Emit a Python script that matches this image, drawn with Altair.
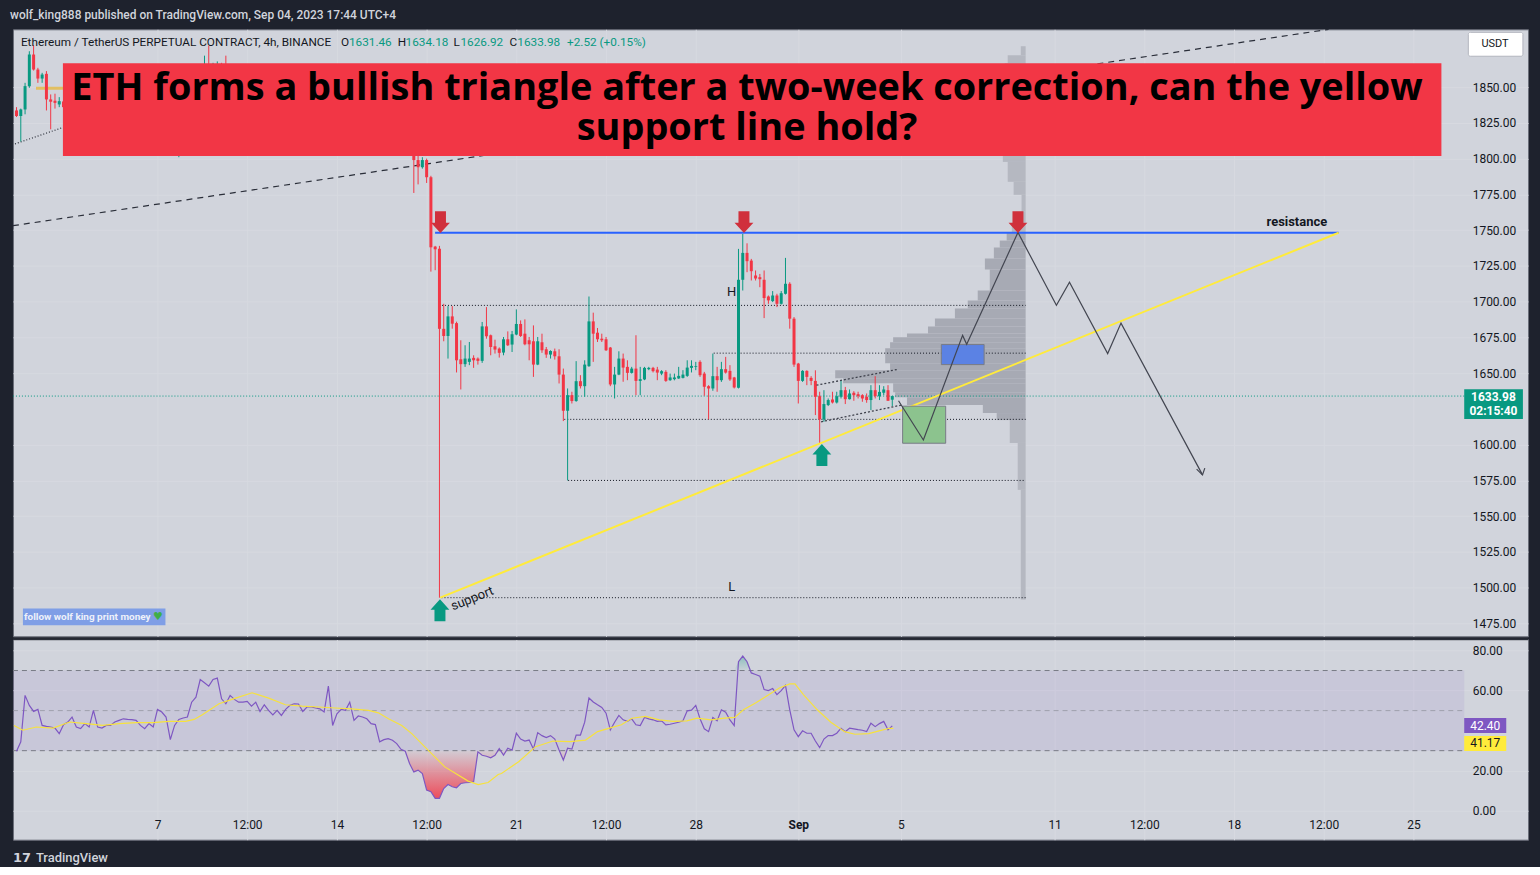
import altair as alt
import pandas as pd
import numpy as np

# ---------------- data ----------------
# 4h candles, x in "day of August" units (Sep 1 = 32); first bar Aug 1 12:00
first_bar_day = 1.5
opens = [
 1833.7,1829.8,1834.4,1850.7,1872.8,1862.3,1856.0,1859.3,1841.4,1840.5,
 1837.9,1840,1836,1839,1843,1836,1834,1838,1833,1846,
 1834,1833,1835,1835.5,1838,1840,1841,1840,1840.5,1839,
 1835,1832,1836,1833,1844,1842,1838,1820,1830,1834,
 1836,1837,1846,1850,1858,1866,1861,1864,1866,1860,
 1853,1859,1856,1854,1854.5,1855,1851,1854,1847,1851,
 1848,1845,1848,1844,1849,1851,1852,1852.5,1847,1850,
 1850.5,1849,1849.5,1847,1862,1840,1845,1848,1847,1852,
 1841,1844,1843,1840,1838,1824,1826,1826.5,1823,1815,
 1810,1806,1810,1805,1799,1794,1799,1787,1738.5,1737,
 1681,1676,1689.7,1685,1659.7,1656.3,1657.9,1660.7,1660.2,1658.6,
 1682.7,1676.5,1668.8,1667.2,1664.4,1673.7,1670,1677,1684.4,1677.6,
 1673,1672.3,1656,1671.6,1666.7,1663,1665.3,1661.8,1649,1623.7,
 1634.6,1630.5,1644.4,1640.9,1654.9,1686.2,1678.3,1674.1,1673.7,1667.9,
 1642.1,1649,1660.2,1654.4,1650.2,1653.2,1644.6,1645.6,1652.8,1653.7,
 1652.5,1649.7,1650.9,1645.1,1645.8,1646.3,1646.7,1648.1,1653.7,1654.4,
 1657.9,1649.7,1640.9,1639.3,1647.9,1645.1,1652.8,1651.6,1647,1639.8,
 1715.3,1734.1,1728.7,1718.3,1717.1,1715.3,1703.6,1700.4,1704.3,1698.5,
 1705.5,1712.5,1688.1,1656.7,1644.6,1651.6,1646.7,1644.6,1633.9,1617.7,
 1627.7,1631.6,1629.5,1633.5,1638.1,1631.8,1636.3,1635.3,1634.6,1633.5,
 1631.2,1638.1,1633.9,1636.3,1638.1,1631.46]
highs = [
 1836.0,1835.0,1853.0,1875.1,1879.3,1863.5,1860.0,1861.2,1844.9,1845.4,
 1843.0,1843,1841,1845,1844,1839,1840,1839,1849,1847,
 1837,1838,1837,1840,1842,1843,1843,1842,1841,1840,
 1837,1838,1837,1846,1846,1843,1839,1832,1836,1838,
 1840,1848,1852,1862,1872,1879,1867,1868,1867,1872,
 1862,1861,1858,1857,1858,1856,1856,1855,1853,1852,
 1849,1850,1849,1850,1853,1854,1853,1853,1852,1852,
 1851,1851,1850,1866,1863,1848,1850,1849,1855,1853,
 1846,1845,1844,1841,1839,1829,1829,1827,1824,1816,
 1811,1812,1812,1808,1803,1801,1800,1788,1739,1739,
 1698.5,1696.9,1696.9,1686,1673,1669.5,1671.8,1662.5,1661,1685.8,
 1696.2,1677,1673.4,1668,1675.3,1679.2,1679.5,1694.6,1686.9,1687.6,
 1675.3,1683.4,1675.3,1677.6,1668.3,1666,1667.2,1666.7,1653.2,1639.3,
 1637,1658.4,1648.6,1659,1703.6,1692.3,1681.6,1677.6,1675.3,1668.3,
 1654.4,1665.3,1663.7,1659,1654.4,1676.5,1654.4,1654.4,1654.4,1654.4,
 1654.4,1652.1,1652.1,1649.7,1649.7,1654.4,1652.1,1659,1659,1657.9,
 1659,1650.9,1641.6,1663.7,1654.4,1657.9,1661.4,1655.6,1647.4,1736.9,
 1747.3,1740.8,1729.9,1721.8,1719.4,1721.8,1704.3,1707.4,1705.5,1707.4,
 1730.6,1713.6,1689.2,1657.2,1652.1,1652,1647.9,1652,1637,1638.1,
 1632.3,1637,1637,1645.1,1640.4,1638.6,1637.4,1637,1635.3,1635.8,
 1641.6,1647.9,1641.6,1640.9,1641.6,1634.18]
lows = [
 1829.1,1812.0,1831.0,1849.5,1861.6,1853.0,1853.0,1833.7,1820.5,1835.0,
 1836.0,1833,1834,1837,1834,1831,1832,1831,1832,1832,
 1830,1831,1832,1833,1836,1837,1838,1837,1836,1833,
 1829,1831,1830,1832,1840,1836,1816,1818,1801,1830,
 1834,1835,1843,1849,1855,1858,1857,1860,1856,1850,
 1851,1853,1851,1850,1852,1849,1850,1845,1846,1845,
 1842,1843,1843,1843,1847,1849,1849,1845,1846,1848,
 1848,1847,1845,1846,1838,1837,1843,1844,1846,1839,
 1839,1840,1838,1836,1822,1820,1822,1819,1812,1808,
 1803,1804,1803,1776,1782,1793,1783,1721,1722,1493,
 1672.3,1660.2,1681.1,1650.5,1638.6,1654.4,1655.6,1653.7,1656,1657.2,
 1674.1,1662.5,1663.7,1660.9,1662.5,1669,1664.8,1676.5,1675.3,1669.5,
 1659,1647.4,1655.6,1664.2,1660.7,1660.2,1659.5,1642.8,1616.5,1575,
 1628.8,1630,1639.3,1633.5,1654.4,1657.9,1671.8,1671.8,1665.5,1640.9,
 1632.3,1648.6,1644,1645.1,1649.7,1634.6,1634.6,1645.1,1652.1,1650.5,
 1645.1,1648.6,1643.9,1644.6,1645,1646,1646.3,1647.4,1650.5,1652.1,
 1647.4,1634.2,1617.7,1637.7,1637,1643.9,1649.7,1644.6,1639.3,1639.3,
 1707.8,1720.6,1714.8,1714.8,1710.1,1688.5,1698.5,1699.7,1696.2,1698,
 1705,1681.1,1654.4,1628.8,1643.9,1641.6,1641.6,1620.7,1601,1616,
 1627,1628.8,1628.8,1632.3,1628.4,1631.6,1630.7,1632.3,1630,1629.3,
 1624.2,1632.3,1631.2,1634.6,1630.7,1626.92]
closes = [
 1829.8,1834.4,1850.7,1872.8,1862.3,1856.0,1858.8,1841.4,1839.8,1839.0,
 1840.2,1836,1839,1843,1836,1834,1838,1833,1846,1834,
 1833,1835,1835.5,1838,1840,1841,1840,1840.5,1839,1835,
 1832,1836,1833,1844,1842,1838,1820,1830,1834,1836,
 1837,1846,1850,1858,1866,1861,1864,1866,1860,1853,
 1859,1856,1854,1854.5,1855,1851,1854,1847,1851,1848,
 1845,1848,1844,1849,1851,1852,1852.5,1847,1850,1850.5,
 1849,1849.5,1847,1862,1840,1845,1848,1847,1852,1841,
 1844,1843,1840,1838,1824,1826,1826.5,1823,1815,1810,
 1806,1810,1806,1799,1794,1799,1787,1738,1736.6,1681,
 1676,1689.7,1684.6,1659,1656.3,1660.2,1660.2,1659.0,1658.6,1682.7,
 1675.8,1668.3,1666.5,1664.2,1673.7,1669.5,1677.2,1684.4,1676,1670.2,
 1670.2,1656,1672.3,1666,1663,1665.5,1661.8,1649,1623.7,1634.6,
 1630.5,1644.4,1640.9,1656,1686.2,1677.6,1673.7,1673,1666,1642.1,
 1649,1660.2,1653.9,1650.2,1653.2,1644.6,1645.8,1653.7,1653.7,1651.4,
 1650.4,1651.4,1644.6,1647,1647,1648.1,1649,1653.9,1655.1,1654.9,
 1648.6,1640.5,1639.3,1647.9,1645.1,1652.8,1650.4,1645.6,1640,1715.3,
 1734.1,1728.3,1721.3,1716.2,1715.7,1702.5,1700.9,1704.3,1698.5,1705.9,
 1712.5,1688.1,1656,1644.6,1651.6,1647.4,1644.6,1633.5,1617.7,1628.4,
 1631.2,1629.5,1633.9,1638.1,1631.8,1635.8,1634.6,1633.9,1632.3,1631.2,
 1638.1,1633.9,1636.9,1638.6,1630.7,1633.98]

rsi_vals = [
 29.7,34.4,57.6,52.6,49.6,50.6,42.6,42.1,41.8,41.3,
 38.5,43.0,44.3,46.8,41.8,41.0,43.5,41.8,50.1,41.8,
 41.3,42.6,42.6,44.3,45.1,45.9,45.6,45.5,45.1,42.6,
 41.0,43.5,41.8,50.6,49.3,46.8,35.5,42.6,45.6,46.3,
 46.8,54.2,56.7,65.5,63.9,62.2,65.5,66.2,55.9,53.4,
 57.6,55.6,54.2,54.2,54.6,52.2,54.2,49.6,52.9,50.1,
 47.9,50.1,47.6,50.6,52.6,53.4,53.3,49.6,51.8,51.8,
 51.3,50.9,49.3,62.2,42.6,48.4,50.6,50.1,54.2,45.1,
 47.3,46.8,45.9,43.5,43.0,34.4,35.5,36.0,35.2,33.5,
 30.7,29.7,23.6,19.4,20.3,18.6,10.3,9.5,6.2,6.2,
 11.1,13.1,12.0,11.5,13.6,14.0,14.1,14.5,29.4,27.7,
 27.2,26.4,27.7,31.0,
 27.8,31.2,30.3,38.7,35.8,34.8,35.3,30.8,39.0,37.5,
 36.5,37.5,35.8,30.3,25.3,31.2,30.8,37.8,37.8,44.2,
 56.3,54.3,52.9,51.6,48.7,40.4,44.2,47.6,45.4,44.6,
 45.9,42.9,42.5,46.6,45.9,45.4,44.6,44.9,42.9,43.2,
 43.7,44.2,44.9,49.9,50.2,52.6,45.9,40.9,39.5,46.6,
 44.9,50.4,49.2,45.4,42.5,74.4,77.2,74.4,68.8,68.0,
 67.2,60.5,60.0,61.0,58.0,60.0,62.6,50.4,40.4,37.0,
 39.9,38.7,38.7,34.8,31.5,35.8,37.5,37.5,38.7,41.2,
 39.5,41.2,40.9,40.5,40.2,39.5,43.7,42.0,43.5,44.6,
 40.4,42.4]

ma_days = [1.40,1.75,2.27,2.92,3.57,4.21,4.86,5.51,6.16,6.81,
 7.45,8.10,8.43,8.75,9.40,10.05,10.69,11.34,11.99,12.64,
 13.29,13.93,14.58,15.23,15.62,16.01,16.53,16.92,17.43,17.82,
 18.21,18.73,19.12,19.51,19.90,20.29,20.42,21.09,21.75,22.43,
 23.10,23.70,24.17,24.70,25.10,25.51,26.04,26.58,27.11,27.65,
 28.05,28.59,29.12,29.52,29.86,30.33,30.86,31.26,31.67,31.87,
 32.20,32.74,33.27,33.81,34.21,34.75,35.15,35.55,35.71]
ma_vals = [42.6,40.2,41.8,41.3,44.3,43.5,42.6,43.5,44.0,44.0,
 44.6,44.6,45.6,47.9,53.4,56.2,58.9,56.2,52.9,52.2,
 51.8,51.3,50.9,50.1,48.9,45.9,42.6,38.5,31.9,26.9,
 21.9,17.8,14.8,13.1,14.1,18.1,18.6,24.5,32.0,34.8,
 34.5,35.3,39.5,41.5,42.9,46.2,47.1,45.4,44.6,44.9,
 46.2,45.4,46.2,46.6,50.4,53.8,58.0,61.3,63.3,63.3,
 58.0,50.4,44.2,39.5,38.2,38.5,39.9,41.2,41.17]

# fixed range volume profile (row price edges, volume as width in days)
vp_edges = [1878.6,1872.3,1866.7,1802.6,1797.7,1783.8,1774.7,1762.9,1755.2,1748.2,
 1742.7,1737.8,1730.1,1722.4,1707.8,1700.8,1695.3,1688.3,1682.7,1677.8,
 1675.1,1671.6,1667.4,1656.9,1652.1,1646.5,1643.0,1636.7,1633.2,1627.7,
 1622.1,1617.2,1601.2,1568.4,1491.7]
vp_vol = [0.19,0.70,0.82,0.89,0.70,0.47,0.16,0.39,0.54,0.74,
 1.01,1.24,1.59,1.40,1.87,2.26,2.76,3.54,3.81,4.63,
 5.17,5.29,5.48,5.29,7.43,7.12,5.17,5.09,4.63,1.67,
 1.13,0.62,0.31,0.19]
vp_right_day = 40.87
value_area = (1617.2, 1748.2)

# drawings
resistance_level = 1748.2
resistance_span = [17.83, 53.08]
support_days = [18.03, 53.08]
support_prices = [1493.0, 1748.2]
long_dash_days = [1.361, 52.69]
long_dash_prices = [1753.1, 1890.4]
short_dot_days = [1.44, 8.75]
short_dot_prices = [1810.3, 1855.3]
gold_days = [2.26, 5.0]
gold_price = 1849.3
level_prices = [1697.4, 1664.0, 1617.7, 1575.0, 1493.0]
level_starts = [18.1, 28.70, 22.87, 23.02, 18.08]
level_end = 40.87
tri_upper = ([32.71, 35.84], [1641.6, 1652.5])
tri_lower = ([32.89, 36.03], [1616.0, 1627.7])
path_days = [35.91, 36.88, 38.41, 38.57, 40.57, 42.07, 42.58, 44.07, 44.59, 47.77]
path_prices = [1630.7, 1603.3, 1676.4, 1670.2, 1748.4, 1697.4, 1713.6, 1663.7, 1685.0, 1578.9]
head_days = [47.54, 47.77, 47.86]
head_prices = [1582.9, 1578.9, 1583.6]
green_box = (36.07, 37.75, 1601.0, 1626.9)
blue_box = (37.58, 39.25, 1656.0, 1670.0)
down_arrow_days = [18.04, 29.88, 40.57]
down_arrow_price = 1755.6
up_arrow_days = [18.02, 32.92]
up_arrow_prices = [1484.2, 1592.8]
last_price = 1633.98
rsi_last, ma_last = 42.40, 41.17

title_text = ("ETH forms a bullish triangle after a two-week correction, can the yellow\n"
              "support line hold?")
banner_box = (3.31, 57.09, 1801.9, 1866.7)

# ---------------- geometry of the panels ----------------
X0, X1 = 1.361, 60.47
PY0, PY1 = 1465.98, 1890.43
RY0, RY1 = -14.43, 85.57
PLOT_END = 57.98      # right edge of the plotting area (price scale begins)

BG = "#d1d4dc"
FRAME = "#1e222d"
UP, DN = "#089981", "#f23645"
INK = "#131722"
FONT = "Roboto"

XS = alt.Scale(domain=[X0, X1], nice=False, zero=False, padding=0)
YS = alt.Scale(domain=[PY0, PY1], nice=False, zero=False, padding=0)
RS = alt.Scale(domain=[RY0, RY1], nice=False, zero=False, padding=0)

XTICKS = [7, 10.5, 14, 17.5, 21, 24.5, 28, 32, 36, 42, 45.5, 49, 52.5, 56]
GRID = "#d7d9e0"

XAX_P = alt.Axis(values=XTICKS, labels=False, ticks=False, domain=False, grid=True,
                 gridColor=GRID, title=None)
XAX_R = alt.Axis(values=XTICKS, ticks=False, domain=False, grid=True, gridColor=GRID,
                 title=None, offset=-26, labelPadding=6, labelFontSize=12, labelColor=INK,
                 labelFont=FONT, labelFlush=False, labelOverlap=False,
                 labelExpr="datum.value == 32 ? 'Sep' : (datum.value % 1 != 0 ? '12:00' : (datum.value > 31 ? '' + (datum.value - 31) : '' + datum.value))",
                 labelFontWeight={"condition": {"test": "datum.value == 32", "value": "bold"}, "value": "normal"})
YAX_P = alt.Axis(orient="right", values=[1475, 1500, 1525, 1550, 1575, 1600, 1650, 1675, 1700,
                                         1725, 1750, 1775, 1800, 1825, 1850],
                 format=".2f", offset=-65, labelPadding=9, ticks=False, domain=False, grid=True,
                 gridColor=GRID, labelAlign="left", labelFontSize=12, labelColor=INK,
                 labelFont=FONT, title=None, labelFlush=False)
YAX_R = alt.Axis(orient="right", values=[0, 20, 60, 80], format=".2f", offset=-65, labelPadding=9,
                 ticks=False, domain=False, grid=True, gridColor=GRID, labelAlign="left",
                 labelFontSize=12, labelColor=INK, labelFont=FONT, title=None, labelFlush=False)


def PX(f="day"):
    return alt.X(f"{f}:Q", scale=XS, axis=XAX_P)


def PY(f="price"):
    return alt.Y(f"{f}:Q", scale=YS, axis=YAX_P)


def RX(f="day"):
    return alt.X(f"{f}:Q", scale=XS, axis=XAX_R)


def RY(f="rsi"):
    return alt.Y(f"{f}:Q", scale=RS, axis=YAX_R)


def line_layer(days, prices, color, width, dash=None, opacity=1.0):
    df = pd.DataFrame({"day": days, "price": prices, "ord": range(len(days))})
    kw = dict(color=color, strokeWidth=width, opacity=opacity)
    if dash is not None:
        kw["strokeDash"] = dash
    return alt.Chart(df).mark_line(**kw).encode(x=PX(), y=PY(), order="ord:Q")


def seg_layer(d1, d2, p1, p2, color, width, dash=None):
    df = pd.DataFrame({"day": d1, "day2": d2, "price": p1, "price2": p2})
    kw = dict(color=color, strokeWidth=width)
    if dash is not None:
        kw["strokeDash"] = dash
    return alt.Chart(df).mark_rule(**kw).encode(x=PX(), x2="day2:Q", y=PY(), y2="price2:Q")


def box_layer(box, fill, stroke=None, opacity=1.0, corner=0):
    df = pd.DataFrame({"day": [box[0]], "day2": [box[1]], "price": [box[2]], "price2": [box[3]]})
    kw = dict(fill=fill, opacity=opacity, cornerRadius=corner)
    if stroke is not None:
        kw["stroke"] = stroke
        kw["strokeWidth"] = 1
    return alt.Chart(df).mark_rect(**kw).encode(x=PX(), x2="day2:Q", y=PY(), y2="price2:Q")


def text_layer(days, prices, texts, **kw):
    df = pd.DataFrame({"day": days, "price": prices, "text": texts})
    kw.setdefault("font", FONT)
    return alt.Chart(df).mark_text(**kw).encode(x=PX(), y=PY(), text="text:N")


# ---------------- price panel ----------------
bar_days = [first_bar_day + j / 6 for j in range(len(opens))]
cdf = pd.DataFrame({"day": bar_days, "open": opens, "high": highs, "low": lows, "close": closes})
cdf["dir"] = np.where(cdf["close"] >= cdf["open"], "up", "down")
cdf["top"] = cdf[["open", "close"]].max(axis=1)
cdf["bot"] = cdf[["open", "close"]].min(axis=1)
ccol = alt.Color("dir:N", scale=alt.Scale(domain=["up", "down"], range=[UP, DN]), legend=None)

wicks = alt.Chart(cdf).mark_rule(strokeWidth=1).encode(
    x=PX(), y=alt.Y("low:Q", scale=YS, axis=YAX_P), y2="high:Q", color=ccol)
bodies = alt.Chart(cdf).mark_bar(size=3).encode(
    x=PX(), y=alt.Y("bot:Q", scale=YS, axis=YAX_P), y2="top:Q", color=ccol)

vp_df = pd.DataFrame({"price": vp_edges[1:], "price2": vp_edges[:-1], "vol": vp_vol})
vp_df["day"] = vp_right_day - vp_df["vol"]
vp_df["day2"] = vp_right_day
vp_in = vp_df[(vp_df["price"] >= value_area[0] - 0.01) & (vp_df["price2"] <= value_area[1] + 0.01)]
vp_out = vp_df.drop(vp_in.index)
vp_layer_out = alt.Chart(vp_out).mark_rect(color="#b5b8c1").encode(
    x=PX(), x2="day2:Q", y=PY(), y2="price2:Q")
vp_layer_in = alt.Chart(vp_in).mark_rect(color="#a7aab4").encode(
    x=PX(), x2="day2:Q", y=PY(), y2="price2:Q")

levels = seg_layer(level_starts, [level_end] * len(level_prices), level_prices, level_prices,
                   INK, 1, [1, 2])
cur_line = seg_layer([X0], [PLOT_END], [last_price], [last_price], UP, 1, [1, 2])
long_dash = line_layer(long_dash_days, long_dash_prices, "#2a2e39", 1.2, [6, 5])
short_dot = line_layer(short_dot_days, short_dot_prices, "#2a2e39", 1.2, [1, 2])
gold = line_layer(gold_days, [gold_price, gold_price], "#e2bf62", 3)

res_line = line_layer(resistance_span, [resistance_level] * 2, "#2962ff", 2)
sup_line = line_layer(support_days, support_prices, "#ffeb3b", 2)
tri_u = line_layer(tri_upper[0], tri_upper[1], "#3d404b", 1.3, [2, 2])
tri_l = line_layer(tri_lower[0], tri_lower[1], "#3d404b", 1.3, [2, 2])
gbox = box_layer(green_box, "#8cc38e", "#787b86")
bbox = box_layer(blue_box, "#5b82e4", "#787b86")
path = line_layer(path_days, path_prices, "#434651", 1.2)
head = line_layer(head_days, head_prices, "#434651", 1.2)

DOWN_ARROW = "M-0.5,-1 L0.5,-1 L0.5,0.05 L0.86,0.05 L0,1 L-0.86,0.05 L-0.5,0.05 Z"
UP_ARROW = "M-0.5,1 L0.5,1 L0.5,-0.05 L0.86,-0.05 L0,-1 L-0.86,-0.05 L-0.5,-0.05 Z"
down_arrows = alt.Chart(pd.DataFrame({"day": down_arrow_days,
                                      "price": [down_arrow_price] * len(down_arrow_days)})).mark_point(
    shape=DOWN_ARROW, filled=True, size=484, color="#d0303c", opacity=1, strokeWidth=0).encode(x=PX(), y=PY())
up_arrows = alt.Chart(pd.DataFrame({"day": up_arrow_days, "price": up_arrow_prices})).mark_point(
    shape=UP_ARROW, filled=True, size=484, color=UP, opacity=1, strokeWidth=0).encode(x=PX(), y=PY())

lbl_hl = text_layer([29.4, 29.4], [1706.4, 1500.8], ["H", "L"], fontSize=13, color=INK)
lbl_res = text_layer([51.45], [1755.9], ["resistance"], fontSize=13, fontWeight="bold", color=INK)
lbl_sup = text_layer([19.28], [1492.4], ["support"], fontSize=13, color=INK, angle=338)

banner = box_layer(banner_box, DN)
banner_txt = text_layer([30.0], [1848.6], [title_text], fontSize=38, lineBreak="\n", lineHeight=40,
                        font="Open Sans", fontWeight="bold", color="#000000", baseline="middle")

hdr_dark = text_layer([1.672, 14.16, 16.37, 18.55, 20.73], [1881.4] * 5,
                      ["Ethereum / TetherUS PERPETUAL CONTRACT, 4h, BINANCE", "O", "H", "L", "C"],
                      fontSize=11.8, color=INK, align="left", baseline="middle")
hdr_green = text_layer([14.47, 16.68, 18.82, 21.04, 22.98], [1881.4] * 5,
                       ["1631.46", "1634.18", "1626.92", "1633.98", "+2.52 (+0.15%)"],
                       fontSize=11.8, color=UP, align="left", baseline="middle")

follow_box = box_layer((1.75, 7.31, 1473.7, 1485.5), "#7f9ee6")
follow_txt = text_layer([1.79], [1479.6], ["follow wolf king print money"], fontSize=10,
                        fontWeight="bold", color="#eef1fa", align="left", baseline="middle")
heart = text_layer([7.02], [1479.6], ["\u2665"], fontSize=11, color="#3fae49",
                   baseline="middle", font="DejaVu Sans")

usdt_box = box_layer((58.14, 60.27, 1871.6, 1888.3), "#ffffff", "#b2b5be", corner=2)
usdt_txt = text_layer([59.18], [1880.0], ["USDT"], fontSize=11, color=INK, baseline="middle")
plbl_box = box_layer((57.98, 60.27, 1617.9, 1638.8), UP)
plbl_txt = text_layer([59.12, 59.12], [1633.4, 1623.6], [f"{last_price:.2f}", "02:15:40"],
                      fontSize=12, fontWeight="bold", color="#ffffff", baseline="middle")

price_chart = alt.layer(
    vp_layer_out, vp_layer_in, levels, cur_line, long_dash, short_dot, gold,
    wicks, bodies, res_line, sup_line, tri_u, tri_l, gbox, bbox, path, head,
    down_arrows, up_arrows, lbl_hl, lbl_res, lbl_sup,
    banner, banner_txt, hdr_dark, hdr_green, follow_box, follow_txt, heart,
    usdt_box, usdt_txt, plbl_box, plbl_txt,
).properties(width=1520, height=609)

# ---------------- RSI panel ----------------
rdf = pd.DataFrame({"day": bar_days, "rsi": rsi_vals})
os_df = pd.DataFrame({"day": bar_days, "rsi": np.minimum(rdf["rsi"], 30.0), "rsi2": 30.0})
ob_df = pd.DataFrame({"day": bar_days, "rsi": 70.0, "rsi2": np.maximum(rdf["rsi"], 70.0)})
band = alt.Chart(pd.DataFrame({"day": [X0], "day2": [PLOT_END], "rsi": [30], "rsi2": [70]})).mark_rect(
    color="#7e57c2", opacity=0.1).encode(x=RX(), x2="day2:Q", y=RY(), y2="rsi2:Q")
os_area = alt.Chart(os_df).mark_area(
    color=alt.Gradient(gradient="linear", x1=0, x2=0, y1=0, y2=1,
                       stops=[alt.GradientStop(color="rgba(242,54,69,0.05)", offset=0),
                              alt.GradientStop(color="rgba(242,54,69,0.85)", offset=1)])
).encode(x=RX(), y=RY(), y2="rsi2:Q")
ob_area = alt.Chart(ob_df).mark_area(
    color=alt.Gradient(gradient="linear", x1=0, x2=0, y1=0, y2=1,
                       stops=[alt.GradientStop(color="rgba(8,153,129,0.35)", offset=0),
                              alt.GradientStop(color="rgba(8,153,129,0.03)", offset=1)])
).encode(x=RX(), y=RY(), y2="rsi2:Q")
lvl_df = pd.DataFrame({"day": [X0, X0], "day2": [PLOT_END, PLOT_END], "rsi": [70, 30]})
rsi_lvls = alt.Chart(lvl_df).mark_rule(color="#787b86", strokeDash=[5, 4], strokeWidth=1).encode(
    x=RX(), x2="day2:Q", y=RY())
mid_df = pd.DataFrame({"day": [X0], "day2": [PLOT_END], "rsi": [50]})
rsi_mid = alt.Chart(mid_df).mark_rule(color="#8e919b", strokeDash=[5, 4], strokeWidth=1,
                                      opacity=0.7).encode(x=RX(), x2="day2:Q", y=RY())
rsi_line = alt.Chart(rdf.assign(ord=range(len(rdf)))).mark_line(color="#7e57c2", strokeWidth=1.2).encode(
    x=RX(), y=RY(), order="ord:Q")
ma_df = pd.DataFrame({"day": ma_days, "rsi": ma_vals, "ord": range(len(ma_days))})
ma_line = alt.Chart(ma_df).mark_line(color="#f7e23c", strokeWidth=1.2).encode(x=RX(), y=RY(), order="ord:Q")

vlab_df = pd.DataFrame({"day": [57.98, 57.98], "day2": [59.62, 59.62],
                        "rsi": [38.8, 29.85], "rsi2": [46.3, 37.3],
                        "tx": [58.80, 58.80], "ty": [42.4, 33.6],
                        "text": [f"{rsi_last:.2f}", f"{ma_last:.2f}"]})
vlab_p = alt.Chart(vlab_df.iloc[[0]]).mark_rect(color="#7e57c2").encode(
    x=RX(), x2="day2:Q", y=RY(), y2="rsi2:Q")
vlab_y = alt.Chart(vlab_df.iloc[[1]]).mark_rect(color="#ffeb3b").encode(
    x=RX(), x2="day2:Q", y=RY(), y2="rsi2:Q")
vtxt_p = alt.Chart(vlab_df.iloc[[0]]).mark_text(font=FONT, fontSize=12, color="#ffffff",
                                                baseline="middle").encode(
    x=alt.X("tx:Q", scale=XS, axis=XAX_R), y=alt.Y("ty:Q", scale=RS, axis=YAX_R), text="text:N")
vtxt_y = alt.Chart(vlab_df.iloc[[1]]).mark_text(font=FONT, fontSize=12, color=INK,
                                                baseline="middle").encode(
    x=alt.X("tx:Q", scale=XS, axis=XAX_R), y=alt.Y("ty:Q", scale=RS, axis=YAX_R), text="text:N")

sep = alt.Chart(pd.DataFrame({"k": [0]})).mark_rule(color="#2a2e39", strokeWidth=1.5).encode(
    x=alt.value(0), x2=alt.value(1520), y=alt.value(0))
footer_logo = alt.Chart(pd.DataFrame({"t": ["17"]})).mark_text(
    font="DejaVu Sans", fontSize=13, fontWeight="bold", color="#d1d4dc", align="left",
    baseline="middle").encode(x=alt.value(0), y=alt.value(219), text="t:N")
footer = alt.Chart(pd.DataFrame({"t": ["TradingView"]})).mark_text(
    font=FONT, fontSize=13, fontWeight=500, color="#d1d4dc", align="left",
    baseline="middle").encode(x=alt.value(23), y=alt.value(219), text="t:N")

rsi_chart = alt.layer(
    band, os_area, ob_area, rsi_lvls, rsi_mid, rsi_line, ma_line,
    vlab_p, vlab_y, vtxt_p, vtxt_y, sep, footer_logo, footer,
).properties(width=1520, height=201)

chart = alt.vconcat(price_chart, rsi_chart, spacing=0).properties(
    background=FRAME,
    padding={"left": 10, "right": 10, "top": 8, "bottom": 0},
    title=alt.TitleParams(
        text="wolf_king888 published on TradingView.com, Sep 04, 2023 17:44 UTC+4",
        anchor="start", fontSize=12, font=FONT, fontWeight=500, color="#d1d4dc", offset=4),
).configure_view(fill=BG, stroke="#6a6d78", strokeWidth=1)

chart.save("out.html", embed_options={"renderer": "svg", "actions": False})
